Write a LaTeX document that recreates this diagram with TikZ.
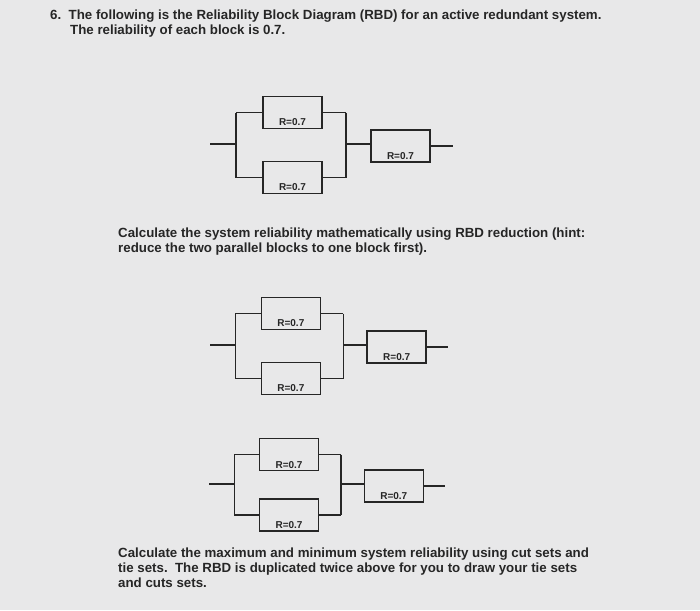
\documentclass[tikz,border=0pt]{standalone}
\usepackage{fontspec}
\setmainfont{Liberation Sans}
\begin{document}
\begin{tikzpicture}[x=1pt,y=-1pt,
  wire/.style={line width=1.4pt,black!85},
  blk/.style={draw=black!85,line width=1.4pt,rectangle,minimum width=59pt,minimum height=32pt,inner sep=0pt},
  lbl/.style={font=\bfseries\fontsize{10}{12}\selectfont,text=black!85,above,inner sep=3pt},
  txt/.style={font=\bfseries\fontsize{13.3}{15}\selectfont,text=black!85,anchor=north west,align=left,inner sep=0pt}]
\fill[fill=black!13] (0,0) rectangle (700,610);
\fill[fill=white!70!cyan!20!black!8,opacity=0.6] (0,0) rectangle (700,610);
\useasboundingbox (0,0) rectangle (700,610);
\newcommand\rbdiag[5]{%
 \begin{scope}[shift={(#2,#3)},xscale=#4,yscale=#5]
  \coordinate (#1in) at (0,0);
  \coordinate (#1lj) at (26,0);
  \node[blk,xscale=1] (#1t) at (82.5,-31.5) {};
  \node[blk] (#1b) at (82.5,33.5) {};
  \coordinate (#1rj) at (136,0);
  \node[blk] (#1c) at (190.5,2) {};
  \coordinate (#1out) at (243,2);
  \draw[wire] (#1in) -- (#1lj);
  \draw[wire] (#1lj |- #1t.west) -- (#1lj |- #1b.west);
  \draw[wire] (#1lj |- #1t.west) -- (#1t.west);
  \draw[wire] (#1lj |- #1b.west) -- (#1b.west);
  \draw[wire] (#1rj |- #1t.east) -- (#1rj |- #1b.east);
  \draw[wire] (#1t.east) -- (#1rj |- #1t.east);
  \draw[wire] (#1b.east) -- (#1rj |- #1b.east);
  \draw[wire] (#1rj) -- (#1c.west |- #1rj);
  \draw[wire] (#1c.east) -- (#1out);
  \node[lbl] at (#1t.south) {R=0.7};
  \node[lbl] at (#1b.south) {R=0.7};
  \node[lbl] at (#1c.south) {R=0.7};
 \end{scope}}
\node[txt] (title) at (50,10) {6.\ \ The following is the Reliability Block Diagram (RBD) for an active redundant system.\\\hspace*{20pt}The reliability of each block is 0.7.};
\rbdiag{a}{210}{144}{1}{1}
\node[txt] (q1) at (118,228) {Calculate the system reliability mathematically using RBD reduction (hint:\\reduce the two parallel blocks to one block first).};
\rbdiag{p}{210}{345}{0.98}{1.0}
\rbdiag{q}{209}{484}{0.97}{0.93}
\node[txt] (q2) at (118,548) {Calculate the maximum and minimum system reliability using cut sets and\\tie sets.\ \ The RBD is duplicated twice above for you to draw your tie sets\\and cuts sets.};
\end{tikzpicture}
\end{document}
